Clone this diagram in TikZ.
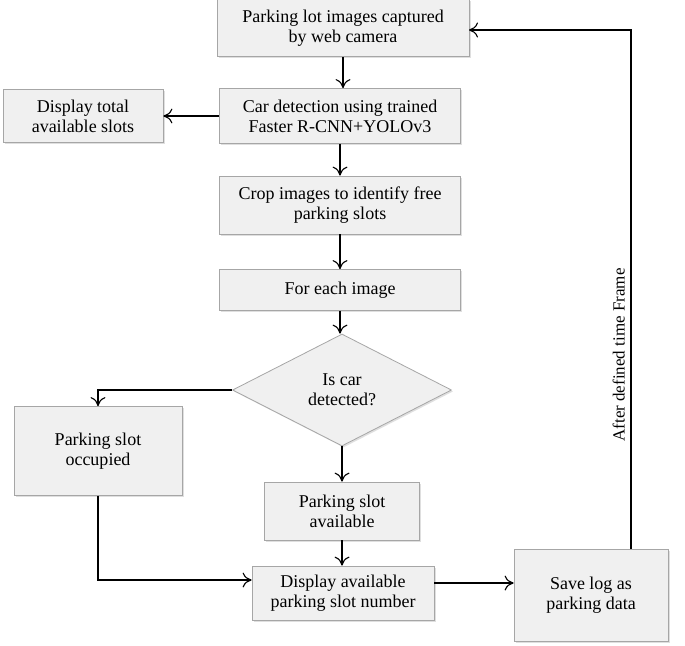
\documentclass[tikz,border=0pt]{standalone}
\usepackage{fontspec}
\setmainfont{Liberation Serif}
\usetikzlibrary{shapes.geometric,arrows.meta,shadows}
\begin{document}
\begin{tikzpicture}[x=1pt,y=-1pt,
 box/.style={draw=gray!70,fill=gray!12,line width=0.8pt,align=center,font=\fontsize{18}{20}\selectfont,inner sep=0pt,drop shadow={shadow xshift=1.5pt,shadow yshift=-1.5pt,fill=gray!50}},
 arr/.style={-{To[length=9pt,width=15pt]},line width=1.1pt}]
\useasboundingbox (0,0) rectangle (685,645);
\node[box,minimum width=252,minimum height=57] (a) at (343,28) {Parking lot images captured\\by web camera};
\node[box,minimum width=241,minimum height=55] (b) at (340,116) {Car detection using trained\\Faster R-CNN+YOLOv3};
\node[box,minimum width=160,minimum height=53] (t) at (83,116) {Display total\\available slots};
\node[box,minimum width=241,minimum height=58] (c) at (340,205) {Crop images to identify free\\parking slots};
\node[box,minimum width=241,minimum height=41] (d) at (340,290) {For each image};
\node[box,diamond,aspect=1.95,minimum width=219,minimum height=112] (e) at (342,390) {Is car\\detected?};
\node[box,minimum width=168,minimum height=89] (o) at (98,451) {Parking slot\\occupied};
\node[box,minimum width=155,minimum height=58] (p) at (342,511) {Parking slot\\available};
\node[box,minimum width=182,minimum height=54] (g) at (343,593) {Display available\\parking slot number};
\node[box,minimum width=154,minimum height=92] (s) at (591,595) {Save log as\\parking data};
\coordinate (sl) at (631,549);
\coordinate (ae) at (469,30);
\draw[arr] (a) -- (a|-b.north);
\draw[arr] (b) -- (t);
\draw[arr] (b) -- (b|-c.north);
\draw[arr] (c) -- (c|-d.north);
\draw[arr] (d) -- (d|-e.north);
\draw[arr] (e.south) -- (e.south|-p.north);
\draw[arr] (e.west) -| (o.north);
\draw[arr] (p) -- (p|-g.north);
\draw[arr] (o.south) |- ([yshift=13]g.west);
\draw[arr] ([yshift=10]g.east) -- ([yshift=10]g.east-|s.west);
\draw[arr] (sl) |- (ae);
\node[rotate=90,font=\fontsize{17}{19}\selectfont,inner sep=1pt,anchor=south] (lab) at (626,355) {After defined time Frame};
\end{tikzpicture}
\end{document}
